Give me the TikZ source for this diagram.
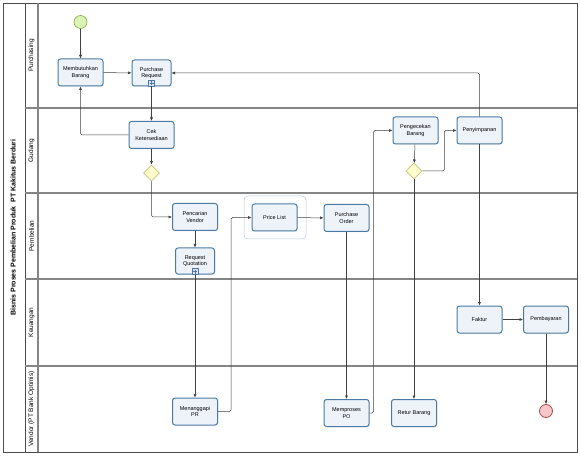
\documentclass[tikz,border=0pt]{standalone}
\usepackage{fontspec}
\setmainfont{Liberation Sans}
\usepackage{tikz}
\usetikzlibrary{positioning,shapes,arrows.meta,calc,shadows}

\definecolor{taskblue}{HTML}{4A7AA3}
\definecolor{taskfill}{HTML}{EEF3FA}
\definecolor{lanegray}{HTML}{858585}
\definecolor{gwfill}{HTML}{FFFFCC}
\definecolor{gwdraw}{HTML}{C2C27A}
\definecolor{startfill}{HTML}{DDF3B5}
\definecolor{startdraw}{HTML}{7AAE45}
\definecolor{endfill}{HTML}{F7C6C6}
\definecolor{enddraw}{HTML}{A84848}
\definecolor{groupdraw}{HTML}{B5C6D6}

\tikzset{
  task/.style={draw=taskblue, line width=1pt, rounded corners=2.5pt, fill=taskfill,
    minimum width=45pt, minimum height=27pt, align=center, inner sep=1pt,
    font=\fontsize{5.5}{6.5}\selectfont,
    drop shadow={opacity=0.12, shadow xshift=0.8pt, shadow yshift=-0.8pt}},
  subtask/.style={task, minimum width=39pt, minimum height=26pt},
  gateway/.style={diamond, draw=gwdraw, fill=gwfill, line width=0.6pt, minimum size=16pt, inner sep=0pt},
  startev/.style={circle, draw=startdraw, fill=startfill, line width=0.6pt, minimum size=13pt, inner sep=0pt},
  endev/.style={circle, draw=enddraw, fill=endfill, line width=0.8pt, minimum size=13pt, inner sep=0pt},
  flow/.style={draw=black!75, line width=0.5pt, rounded corners=1.5pt, -{Latex[length=3.5pt,width=3pt]}},
  lanelabel/.style={rotate=90, font=\fontsize{6.5}{7}\selectfont},
}

\begin{document}
\begin{tikzpicture}[x=1pt,y=-1pt]
\useasboundingbox (0,0) rectangle (581,457);

% Pool and lanes
\draw[black!70, line width=0.8pt] (3,3) rectangle (577,452);
\draw[black!70, line width=0.8pt] (25,3) -- (25,452);
\draw[lanegray, line width=1.3pt] (38,3) -- (38,452);
\foreach \y in {108,193,279,366}
    \draw[lanegray, line width=1.3pt] (25,\y) -- (577,\y);

% Titles
\node[rotate=90, font=\bfseries\fontsize{7}{8}\selectfont] (pool) at (13,227.5)
    {Bisnis Proses Pembelian Produk \ PT Kakitus Berduri};
\node[lanelabel] (l1) at (31.5,55.5) {Purchasing};
\node[lanelabel] (l2) at (31.5,150.5) {Gudang};
\node[lanelabel] (l3) at (31.5,236) {Pembelian};
\node[lanelabel] (l4) at (31.5,322.5) {Keuangan};
\node[lanelabel] (l5) at (31.5,409) {Vendor (PT Bank Optimis)};

% Group round Price List
\draw[groupdraw, line width=0.5pt, rounded corners=4pt] (244,196) rectangle (306,239);

% Events and gateways
\node[startev] (start) at (80.5,22) {};
\node[endev] (stop) at (546,411) {};
\node[gateway] (gw1) at (151.5,173) {};
\node[gateway] (gw2) at (414,171) {};

% Tasks
\node[task] (butuh) at (80.5,72.5) {Membutuhkan\\Barang};
\node[subtask] (preq) at (151.5,73) {Purchase\\Request};
\node[task] (cek) at (151.5,135) {Cek\\Ketersediaan};
\node[task] (vendor) at (195,217) {Pencarian\\Vendor};
\node[subtask] (quot) at (195,261) {Request\\Quotation};
\node[task] (tanggap) at (195,411.5) {Menanggapi\\PR};
\node[task] (price) at (274.5,217.5) {Price List};
\node[task] (po) at (346.5,218) {Purchase\\Order};
\node[task] (proses) at (346.5,413) {Memproses\\PO};
\node[task] (cekbarang) at (415.5,130.5) {Pengecekan\\Barang};
\node[task] (simpan) at (479.5,130.5) {Penyimpanan};
\node[task] (retur) at (414,413) {Retur Barang};
\node[task] (faktur) at (479.5,319.5) {Faktur};
\node[task] (bayar) at (546,319.5) {Pembayaran};

% Sub-process markers
\foreach \n in {preq,quot} {
    \draw[taskblue, fill=blue!12, line width=0.5pt] ($(\n.south)+(-3,-6)$) rectangle ($(\n.south)+(3,0)$);
    \draw[taskblue, line width=0.7pt] ($(\n.south)+(-2,-3)$) -- ++(4,0)
        ($(\n.south)+(0,-5)$) -- ++(0,4);
}

% Sequence flows
\draw[flow] (start) -- (butuh);
\draw[flow] (butuh) -- (preq);
\draw[flow] (preq) -- (cek);
\draw[flow] (cek.west) -| (butuh.south);
\draw[flow] (cek) -- (gw1);
\draw[flow] (gw1.south) |- (vendor.west);
\draw[flow] (vendor) -- (quot);
\draw[flow] (quot) -- (tanggap);
\draw[flow] (tanggap.east) -- ++(13,0) |- (price.west);
\draw[flow] (price) -- (po);
\draw[flow] (po) -- (proses);
\draw[flow] (proses.east) -- ++(4,0) |- (cekbarang.west);
\draw[flow] (cekbarang) -- (gw2);
\draw[flow] (gw2.east) -- ++(22,0) |- (simpan.west);
\draw[flow] (gw2) -- (retur);
\draw[flow] (simpan.north) |- (preq.east);
\draw[flow] (simpan) -- (faktur);
\draw[flow] (faktur) -- (bayar);
\draw[flow] (bayar) -- (stop);
\end{tikzpicture}
\end{document}
